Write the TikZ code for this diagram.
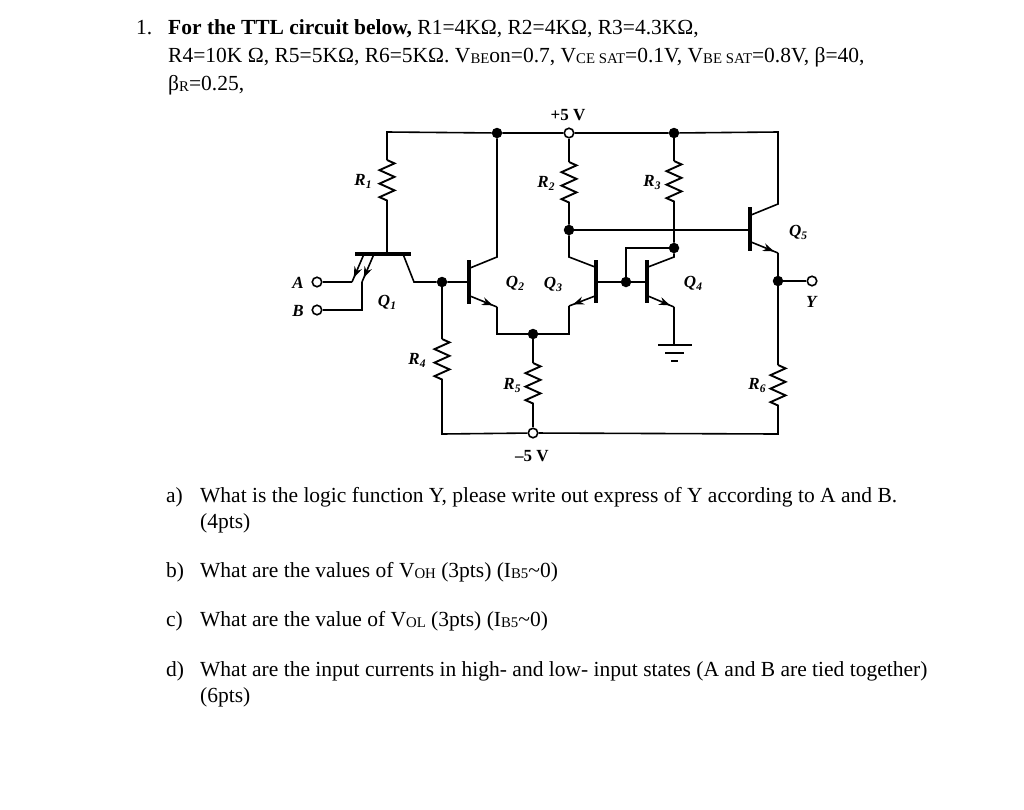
\documentclass[tikz,border=0pt]{standalone}
\usepackage{fontspec}
\setmainfont{Liberation Serif}
\usetikzlibrary{arrows.meta,decorations.pathmorphing,decorations.markings}
\newcommand{\sm}[1]{\raisebox{-1pt}{\fontsize{14.8}{14.8}\selectfont #1}}
\newcommand{\lab}[2]{\textbf{\textit{#1}}\raisebox{-3pt}{\fontsize{11.5}{11.5}\selectfont\textbf{\textit{#2}}}}
\tikzset{
  wire/.style={line width=1.6pt,line join=miter},
  bar/.style={line width=3.6pt},
  res/.style={line width=1.9pt,decorate,decoration={zigzag,segment length=13.5pt,amplitude=7.5pt}},
  emit/.style={wire,postaction={decorate},decoration={markings,mark=at position 0.85 with {\arrow{Stealth[length=11pt,width=8pt]}}}},
  dot/.style={circle,fill=black,inner sep=0pt,minimum size=10.5pt},
  term/.style={circle,draw=black,fill=white,line width=1.6pt,inner sep=0pt,minimum size=9.5pt},
  clab/.style={inner sep=0pt,font=\fontsize{17}{17}\selectfont},
  txt/.style={anchor=base west,inner sep=0pt,font=\fontsize{21.5}{24}\selectfont},
}
\begin{document}
\begin{tikzpicture}[x=1pt,y=-1pt]
\useasboundingbox (0,0) rectangle (1024,809);
% text
\node[txt,anchor=base west] (t0) at (136,34) {1.};
\node[txt] (t1) at (168,34) {\textbf{For the TTL circuit below,} R1=4KΩ, R2=4KΩ, R3=4.3KΩ,};
\node[txt] (t2) at (168,62) {R4=10K Ω, R5=5KΩ, R6=5KΩ. V\sm{BE}on=0.7, V\sm{CE SAT}=0.1V, V\sm{BE SAT}=0.8V, β=40,};
\node[txt] (t3) at (168,90) {β\sm{R}=0.25,};
\node[txt] (a1) at (166,502) {a)};
\node[txt] (a2) at (200,502) {What is the logic function Y, please write out express of Y according to A and B.};
\node[txt] (a3) at (200,528) {(4pts)};
\node[txt] (b1) at (166,577) {b)};
\node[txt] (b2) at (200,577) {What are the values of V\sm{OH} (3pts) (I\sm{B5}\textasciitilde 0)};
\node[txt] (c1) at (166,626) {c)};
\node[txt] (c2) at (200,626) {What are the value of V\sm{OL} (3pts) (I\sm{B5}\textasciitilde 0)};
\node[txt] (d1) at (166,676) {d)};
\node[txt] (d2) at (200,676) {What are the input currents in high- and low- input states (A and B are tied together)};
\node[txt] (d3) at (200,702) {(6pts)};
% nodes
\node[dot] (jtop) at (497,133) {};
\node[term] (vcc) at (569,133) {};
\node[dot] (jr3) at (674,133) {};
\node[dot] (jq2b) at (442,282) {};
\node[dot] (jq3c) at (569,230) {};
\node[dot] (jr3b) at (674,248) {};
\node[dot] (jb) at (626,282) {};
\node[dot] (je) at (533,334) {};
\node[dot] (jout) at (778,281) {};
\node[term] (y) at (812,281) {};
\node[term] (vee) at (533,433) {};
\node[term] (a) at (317,282) {};
\node[term] (b) at (317,310) {};
% corners
\coordinate (tl) at (387,132);
\coordinate (tr) at (778,132);
\coordinate (r1a) at (387,160); \coordinate (r1b) at (387,202);
\coordinate (r2a) at (569,162); \coordinate (r2b) at (569,203);
\coordinate (r3a) at (674,161); \coordinate (r3b) at (674,203);
\coordinate (r4a) at (442,339); \coordinate (r4b) at (442,380);
\coordinate (r5a) at (533,363); \coordinate (r5b) at (533,405);
\coordinate (r6a) at (778,365); \coordinate (r6b) at (778,407);
\coordinate (bl) at (442,434); \coordinate (br) at (778,434);
% Q1
\coordinate (q1l) at (355,254); \coordinate (q1r) at (411,254); \coordinate (q1m) at (387,254);
\coordinate (q1e1) at (364,254); \coordinate (q1e1b) at (352,282);
\coordinate (q1e2) at (374,254); \coordinate (q1e2b) at (362,282); \coordinate (q1e2c) at (362,310);
\coordinate (q1c) at (403,254); \coordinate (q1cb) at (414,282);
% Q2
\coordinate (q2t) at (469,260); \coordinate (q2b) at (469,304); \coordinate (q2base) at (469,282);
\coordinate (q2c) at (470,268); \coordinate (q2cc) at (497,257);
\coordinate (q2e) at (470,296); \coordinate (q2ee) at (497,307); \coordinate (q2l) at (497,334);
% Q3
\coordinate (q3t) at (596,260); \coordinate (q3b) at (596,303); \coordinate (q3base) at (596,282);
\coordinate (q3c) at (595,267); \coordinate (q3cc) at (569,257);
\coordinate (q3e) at (595,296); \coordinate (q3ee) at (569,306); \coordinate (q3l) at (569,334);
% Q4
\coordinate (q4t) at (647,260); \coordinate (q4b) at (647,303); \coordinate (q4base) at (647,282);
\coordinate (q4c) at (648,267); \coordinate (q4cc) at (674,257);
\coordinate (q4e) at (648,296); \coordinate (q4ee) at (674,307);
\coordinate (jbu) at (626,248);
% Q5
\coordinate (q5t) at (750,207); \coordinate (q5b) at (750,251); \coordinate (q5base) at (750,230);
\coordinate (q5c) at (751,215); \coordinate (q5cc) at (778,204);
\coordinate (q5e) at (751,242); \coordinate (q5ee) at (778,253);
% ground
\coordinate (g1a) at (658,345); \coordinate (g1b) at (692,345); \coordinate (g1m) at (674,345);
\coordinate (g2a) at (665,353); \coordinate (g2b) at (684,353);
\coordinate (g3a) at (671,361); \coordinate (g3b) at (678,361);
% wires
\draw[wire] (r1a) -- (tl) -- (jtop) -- (vcc) -- (jr3) -- (tr) -- (q5cc) -- (q5c);
\draw[res] (r1a) -- (r1b);
\draw[wire] (r1b) -- (q1m);
\draw[bar] (q1l) -- (q1r);
\draw[emit] (q1e1) -- (q1e1b);
\draw[wire] (q1e1b) -- (a);
\draw[emit] (q1e2) -- (q1e2b);
\draw[wire] (q1e2b) -- (q1e2c) -- (b);
\draw[wire] (q1c) -- (q1cb) -- (jq2b) -- (q2base);
\draw[wire] (jq2b) -- (r4a);
\draw[res] (r4a) -- (r4b);
\draw[wire] (r4b) -- (bl) -- (vee) -- (br) -- (r6b);
\draw[res] (r6a) -- (r6b);
\draw[wire] (r6a) -- (jout) -- (q5ee);
\draw[wire] (jout) -- (y);
\draw[bar] (q2t) -- (q2b);
\draw[wire] (jtop) -- (q2cc) -- (q2c);
\draw[emit] (q2e) -- (q2ee);
\draw[wire] (q2ee) -- (q2l) -- (je) -- (q3l) -- (q3ee);
\draw[emit] (q3e) -- (q3ee);
\draw[wire] (je) -- (r5a);
\draw[res] (r5a) -- (r5b);
\draw[wire] (r5b) -- (vee);
\draw[wire] (vcc) -- (r2a);
\draw[res] (r2a) -- (r2b);
\draw[wire] (r2b) -- (jq3c) -- (q3cc) -- (q3c);
\draw[wire] (jq3c) -- (q5base);
\draw[bar] (q3t) -- (q3b);
\draw[wire] (q3base) -- (jb) -- (q4base);
\draw[wire] (jb) -- (jbu) -- (jr3b);
\draw[bar] (q4t) -- (q4b);
\draw[wire] (jr3) -- (r3a);
\draw[res] (r3a) -- (r3b);
\draw[wire] (r3b) -- (jr3b) -- (q4cc) -- (q4c);
\draw[emit] (q4e) -- (q4ee);
\draw[wire] (q4ee) -- (g1m);
\draw[line width=2.2pt] (g1a) -- (g1b);
\draw[line width=2.2pt] (g2a) -- (g2b);
\draw[line width=2.2pt] (g3a) -- (g3b);
\draw[bar] (q5t) -- (q5b);
\draw[emit] (q5e) -- (q5ee);
% labels
\node[clab] (lvcc) at (568,115) {\textbf{+5 V}};
\node[clab] (lvee) at (532,456) {\textbf{–5 V}};
\node[clab] (lr1) at (363,181) {\lab{R}{1}};
\node[clab] (lr2) at (546,183) {\lab{R}{2}};
\node[clab] (lr3) at (652,182) {\lab{R}{3}};
\node[clab] (lr4) at (417,360) {\lab{R}{4}};
\node[clab] (lr5) at (512,385) {\lab{R}{5}};
\node[clab] (lr6) at (757,385) {\lab{R}{6}};
\node[clab] (lq1) at (387,302) {\lab{Q}{1}};
\node[clab] (lq2) at (515,283) {\lab{Q}{2}};
\node[clab] (lq3) at (553,284) {\lab{Q}{3}};
\node[clab] (lq4) at (693,283) {\lab{Q}{4}};
\node[clab] (lq5) at (798,232) {\lab{Q}{5}};
\node[clab] (la) at (298,283) {\textbf{\textit{A}}};
\node[clab] (lb) at (298,311) {\textbf{\textit{B}}};
\node[clab] (ly) at (812,302) {\textbf{\textit{Y}}};
\end{tikzpicture}
\end{document}
